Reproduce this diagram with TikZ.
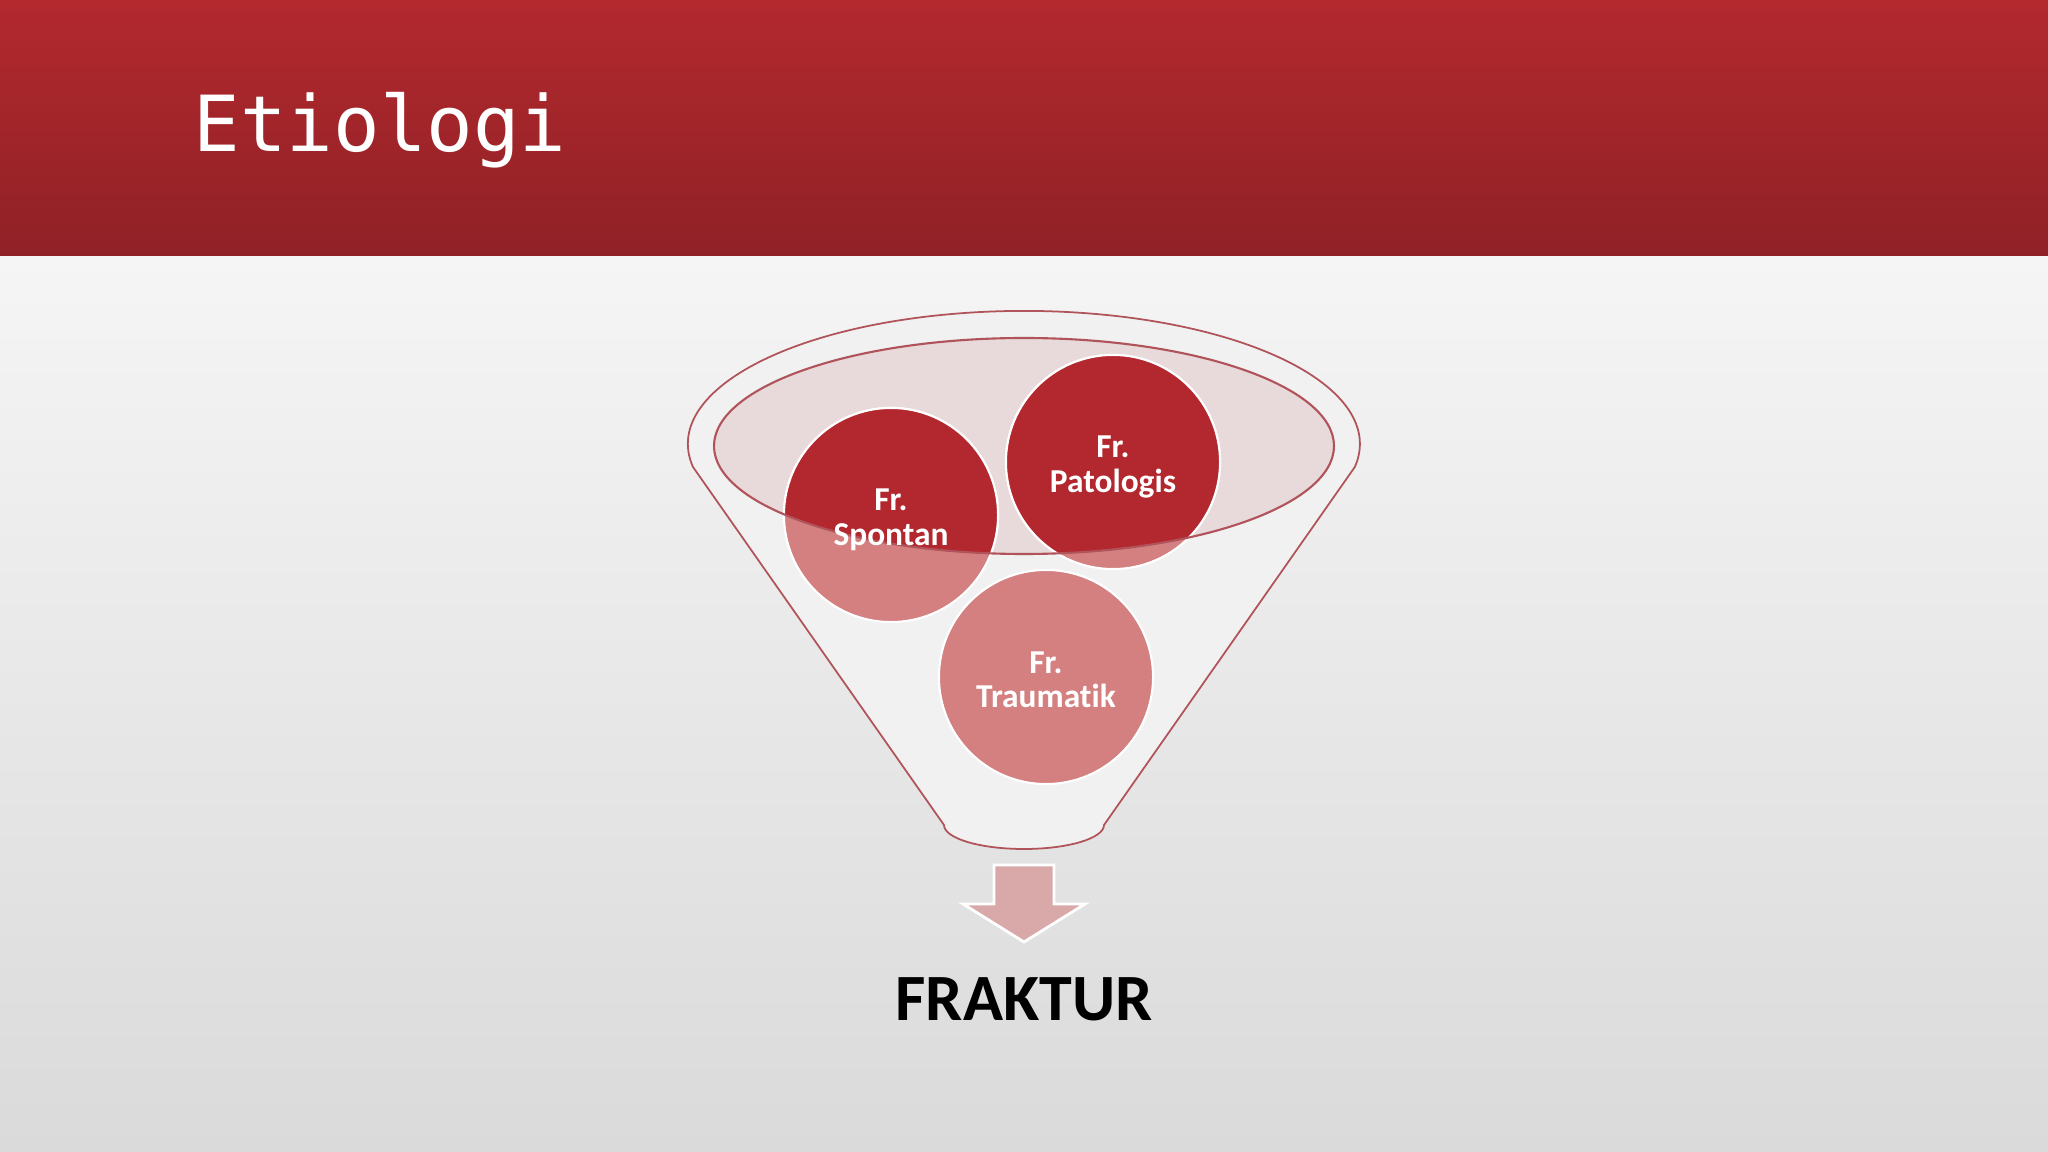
\documentclass[tikz,border=0pt]{standalone}
\usepackage{fontspec}
\newfontfamily\titlefont{DejaVu Sans Mono}
\newfontfamily\circfont[Ligatures={NoCommon}]{Carlito}
\usetikzlibrary{shapes.geometric}
\definecolor{hdtop}{HTML}{B3292E}
\definecolor{hdbot}{HTML}{8F2126}
\definecolor{bgtop}{HTML}{F5F5F5}
\definecolor{bgbot}{HTML}{DADADA}
\definecolor{darkred}{HTML}{B3282E}
\definecolor{lightred}{HTML}{D48080}
\definecolor{rimline}{HTML}{B0535A}
\definecolor{bowl}{HTML}{F1F1F1}
\definecolor{innerfill}{HTML}{E8D9DA}
\definecolor{arrowfill}{HTML}{D9A9AA}
\tikzset{
  circlight/.style={circle, minimum size=2.14cm, inner sep=0pt, fill=lightred, draw=white, line width=0.6pt},
  circlabel/.style={text=white, align=center, font=\circfont\bfseries\fontsize{9.5}{9.8}\selectfont},
  funnelline/.style={draw=rimline, line width=0.5pt},
}
\begin{document}
\begin{tikzpicture}[x=0.01cm, y=-0.01cm]
\useasboundingbox (0,0) rectangle (2048,1152);
% background
\shade[top color=bgtop, bottom color=bgbot] (0,256) rectangle (2048,1152);
\shade[top color=hdtop, bottom color=hdbot] (0,0) rectangle (2048,256);
\node[anchor=base west, inner sep=0pt, text=white, font=\titlefont\fontsize{22}{26}\selectfont] (title) at (193,152) {Etiologi};
% funnel body
\path[funnelline, fill=bowl] (693,467) arc[start angle=170, end angle=370, x radius=336, y radius=133]
  -- (1104,825)
  arc[start angle=0, end angle=180, x radius=80, y radius=24]
  -- cycle;
% inner ellipse fill
\fill[innerfill] (1024,446) ellipse[x radius=310, y radius=108];
% circles
\node[circlight] (sp) at (891,515) {};
\node[circlight] (pa) at (1113,462) {};
\node[circlight] (tr) at (1046,677) {};
\begin{scope}
  \clip (1024,446) ellipse[x radius=310, y radius=108];
  \fill[darkred, draw=white, line width=0.6pt] (sp.center) circle[radius=1.07cm];
  \fill[darkred, draw=white, line width=0.6pt] (pa.center) circle[radius=1.07cm];
\end{scope}
\draw[rimline, line width=0.6pt] (1024,446) ellipse[x radius=310, y radius=108];
\node[circlabel] (spl) at ([yshift=-0.05cm]sp.center) {Fr.\\Spontan};
\node[circlabel] (pal) at ([yshift=-0.05cm]pa.center) {Fr.\\Patologis};
\node[circlabel] (trl) at ([yshift=-0.03cm]tr.center) {Fr.\\Traumatik};
% arrow
\path[fill=arrowfill, draw=white, line width=0.8pt] (994,865) -- (1054,865) -- (1054,904) -- (1085,904) -- (1024,942) -- (963,904) -- (994,904) -- cycle;
\node[font=\circfont\bfseries\fontsize{18.8}{22}\selectfont, text=black, inner sep=0pt, anchor=base] (frak) at (1024,1020) {FRAKTUR};
\end{tikzpicture}
\end{document}
